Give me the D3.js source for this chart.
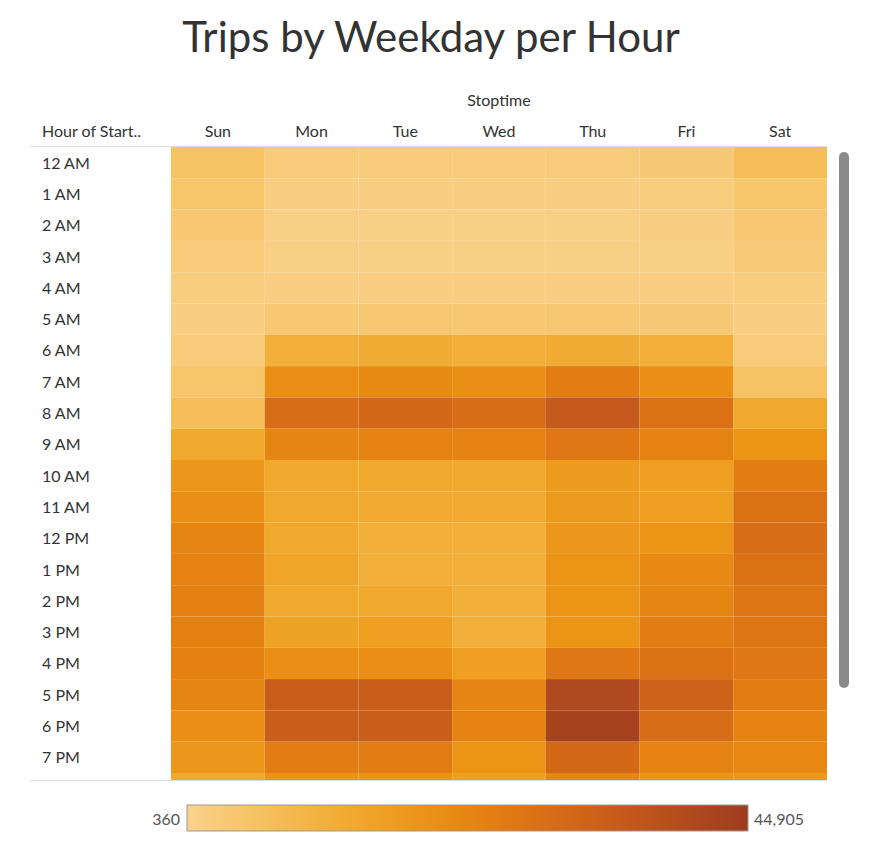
<!DOCTYPE html>
<html><head><meta charset="utf-8">
<script src="https://cdn.jsdelivr.net/npm/d3@7"></script>
<style>body{margin:0;background:#fff}text{font-family:Lato,"Open Sans",sans-serif}</style>
</head><body><svg id="c" width="893" height="848"></svg>
<script>
const days = ["Sun","Mon","Tue","Wed","Thu","Fri","Sat"];
const hours = ["12 AM","1 AM","2 AM","3 AM","4 AM","5 AM","6 AM","7 AM","8 AM","9 AM","10 AM","11 AM","12 PM","1 PM","2 PM","3 PM","4 PM","5 PM","6 PM","7 PM","8 PM"];
const trips = [
[5700,2600,2600,2600,2600,3500,7100],
[4800,1700,1700,1700,1700,2200,4800],
[3900,1300,1300,1300,1300,1700,3900],
[2600,1300,1300,1300,1300,1300,3100],
[2200,1700,1700,1700,1700,1700,2200],
[1700,3900,3900,3900,3900,3500,1700],
[2600,11500,12400,11500,12400,11500,2600],
[4800,20400,21300,20400,24900,20400,5700],
[7100,29300,30700,29300,35100,28000,13700],
[13700,22600,23500,23500,26200,23500,19100],
[18200,13700,13700,13700,17300,16000,24900],
[20400,13700,12800,12800,17300,16000,28000],
[22600,13700,11500,11500,18200,19100,29300],
[23500,14600,11500,11500,19100,21800,28000],
[24000,13700,13700,11500,19100,22600,27100],
[24000,15100,16000,11500,19100,24900,27100],
[24000,20400,20400,16000,26200,28000,26200],
[22600,33800,33800,22600,40500,32400,24900],
[20400,33800,33800,23500,42700,29300,23500],
[18200,24900,24900,19100,30700,23500,21800],
[13700,19100,19100,16000,22600,19100,18200]];
const vmin = 360, vmax = 44905;

const svg = d3.select("#c");
const interp = d3.interpolateRgbBasis(["#fad28c","#f3b848","#ee980e","#df7414","#c2561c","#9e3c1f"]);
const color = d3.scaleSequential(interp).domain([vmin, vmax]);
const x = d3.scaleBand().domain(days).range([171, 827]);
const y = d3.scaleBand().domain(hours).range([147, 147 + 31.3*21]);

svg.append("text").attr("x",431).attr("y",52).attr("text-anchor","middle")
  .attr("font-size",42).attr("fill","#333").text("Trips by Weekday per Hour");
svg.append("text").attr("x",499).attr("y",106).attr("text-anchor","middle")
  .attr("font-size",16).attr("fill","#333").text("Stoptime");
svg.append("text").attr("x",42).attr("y",137).attr("font-size",16).attr("fill","#333").text("Hour of Start..");
svg.selectAll(".dh").data(days).join("text").attr("x",d=>x(d)+x.bandwidth()/2).attr("y",137)
  .attr("text-anchor","middle").attr("font-size",16).attr("fill","#333").text(d=>d);
svg.append("line").attr("x1",30).attr("x2",827).attr("y1",146.5).attr("y2",146.5).attr("stroke","#ddd");

svg.append("clipPath").attr("id","clip").append("rect").attr("x",0).attr("y",147).attr("width",893).attr("height",633);
const g = svg.append("g").attr("clip-path","url(#clip)");
const cells = [];
trips.forEach((r,i)=>r.forEach((v,j)=>cells.push({h:hours[i],d:days[j],v})));
g.selectAll("rect.c").data(cells).join("rect").attr("class","c")
  .attr("x",d=>x(d.d)).attr("y",d=>y(d.h)).attr("width",x.bandwidth()).attr("height",y.bandwidth())
  .attr("fill",d=>color(d.v));
g.selectAll("text.h").data(hours).join("text").attr("class","h").attr("x",42)
  .attr("y",d=>y(d)+y.bandwidth()/2+6).attr("font-size",16).attr("fill","#333").text(d=>d);
svg.append("line").attr("x1",30).attr("x2",827).attr("y1",780.5).attr("y2",780.5).attr("stroke","#ddd");

svg.append("rect").attr("x",839).attr("y",152).attr("width",10).attr("height",536).attr("rx",5).attr("fill","#8a8a8a");

const defs = svg.append("defs");
const lg = defs.append("linearGradient").attr("id","lg");
d3.range(0,1.01,0.1).forEach(t=>lg.append("stop").attr("offset",t).attr("stop-color",interp(t)));
svg.append("rect").attr("x",187).attr("y",805).attr("width",561).attr("height",26).attr("fill","url(#lg)").attr("stroke","#999");
svg.append("text").attr("x",180).attr("y",825).attr("text-anchor","end").attr("font-size",16).attr("fill","#555").text(d3.format(",")(vmin));
svg.append("text").attr("x",754).attr("y",825).attr("font-size",16).attr("fill","#555").text(d3.format(",")(vmax));
</script></body></html>
